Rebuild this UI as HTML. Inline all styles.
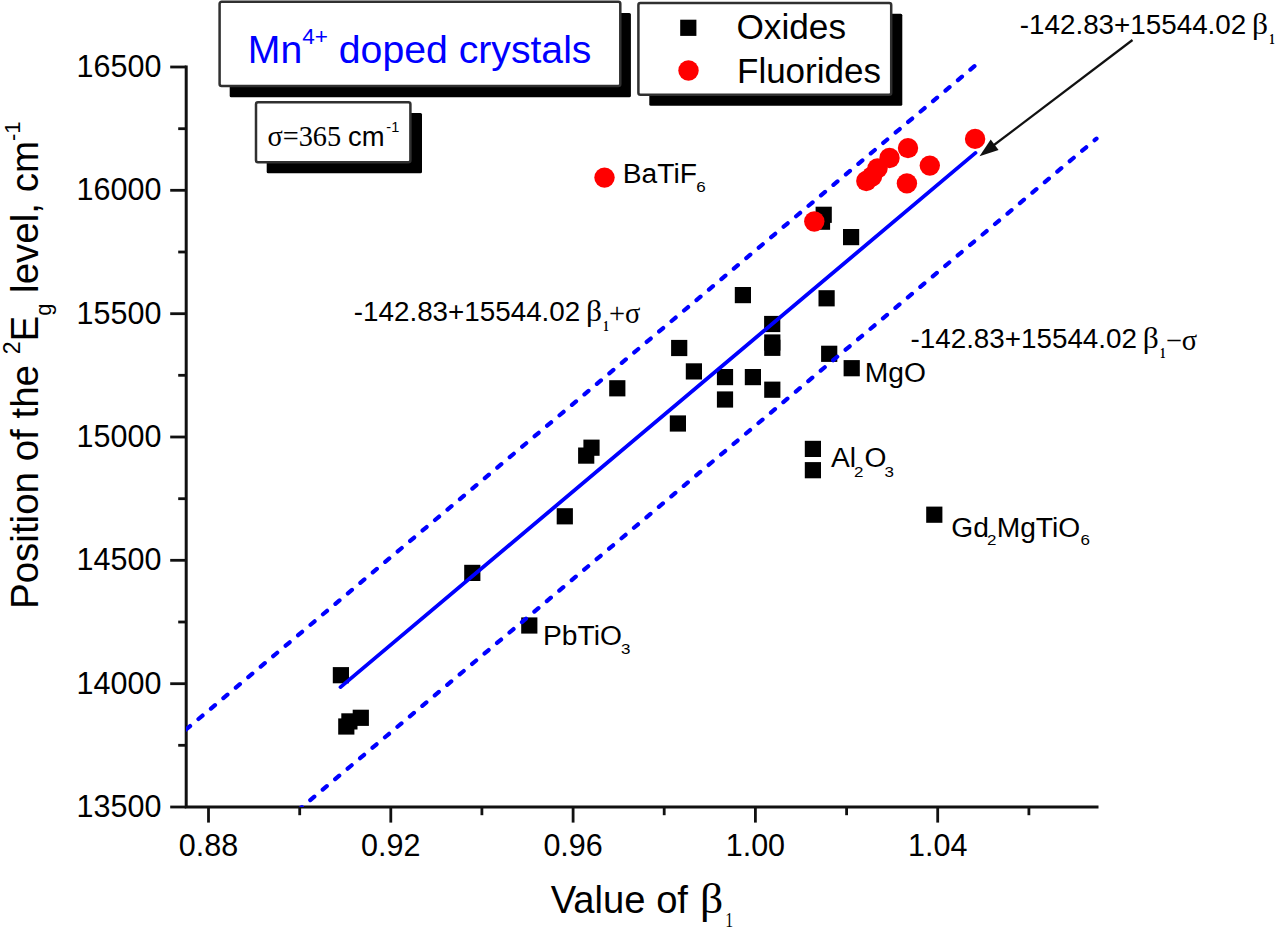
<!DOCTYPE html>
<html><head><meta charset="utf-8"><title>Mn4+ chart</title>
<style>
html,body{margin:0;padding:0;background:#fff;}
svg{display:block;}
</style></head>
<body>
<svg width="1280" height="934" viewBox="0 0 1280 934" font-family='"Liberation Sans", sans-serif'>
<rect width="1280" height="934" fill="#fff"/>
<rect x="229.7" y="12.9" width="401.2" height="84.3" rx="1.5" fill="#000"/>
<rect x="219.6" y="1.7" width="400.7" height="84.3" rx="2" fill="#fff" stroke="#303030" stroke-width="2.5"/>
<rect x="649.3" y="13.8" width="253.0" height="91.9" rx="1.5" fill="#000"/>
<rect x="638.4" y="3.1" width="252.8" height="91.7" rx="2" fill="#fff" stroke="#303030" stroke-width="2.5"/>
<rect x="266.7" y="113.0" width="155.3" height="60.2" rx="1.5" fill="#000"/>
<rect x="256.0" y="102.2" width="154.4" height="60.1" rx="2" fill="#fff" stroke="#303030" stroke-width="2.5"/>
<path d="M186.2 67 V807 H1097" fill="none" stroke="#111" stroke-width="3" stroke-linecap="square"/>
<line x1="170.2" y1="807.0" x2="186.2" y2="807.0" stroke="#111" stroke-width="2.8"/>
<line x1="178.2" y1="745.3" x2="186.2" y2="745.3" stroke="#111" stroke-width="2.8"/>
<line x1="170.2" y1="683.7" x2="186.2" y2="683.7" stroke="#111" stroke-width="2.8"/>
<line x1="178.2" y1="622.0" x2="186.2" y2="622.0" stroke="#111" stroke-width="2.8"/>
<line x1="170.2" y1="560.3" x2="186.2" y2="560.3" stroke="#111" stroke-width="2.8"/>
<line x1="178.2" y1="498.7" x2="186.2" y2="498.7" stroke="#111" stroke-width="2.8"/>
<line x1="170.2" y1="437.0" x2="186.2" y2="437.0" stroke="#111" stroke-width="2.8"/>
<line x1="178.2" y1="375.3" x2="186.2" y2="375.3" stroke="#111" stroke-width="2.8"/>
<line x1="170.2" y1="313.7" x2="186.2" y2="313.7" stroke="#111" stroke-width="2.8"/>
<line x1="178.2" y1="252.0" x2="186.2" y2="252.0" stroke="#111" stroke-width="2.8"/>
<line x1="170.2" y1="190.3" x2="186.2" y2="190.3" stroke="#111" stroke-width="2.8"/>
<line x1="178.2" y1="128.7" x2="186.2" y2="128.7" stroke="#111" stroke-width="2.8"/>
<line x1="170.2" y1="67.0" x2="186.2" y2="67.0" stroke="#111" stroke-width="2.8"/>
<line x1="208.5" y1="807" x2="208.5" y2="822.6" stroke="#111" stroke-width="2.8"/>
<line x1="299.7" y1="807" x2="299.7" y2="815.2" stroke="#111" stroke-width="2.8"/>
<line x1="390.8" y1="807" x2="390.8" y2="822.6" stroke="#111" stroke-width="2.8"/>
<line x1="481.9" y1="807" x2="481.9" y2="815.2" stroke="#111" stroke-width="2.8"/>
<line x1="573.1" y1="807" x2="573.1" y2="822.6" stroke="#111" stroke-width="2.8"/>
<line x1="664.2" y1="807" x2="664.2" y2="815.2" stroke="#111" stroke-width="2.8"/>
<line x1="755.4" y1="807" x2="755.4" y2="822.6" stroke="#111" stroke-width="2.8"/>
<line x1="846.6" y1="807" x2="846.6" y2="815.2" stroke="#111" stroke-width="2.8"/>
<line x1="937.7" y1="807" x2="937.7" y2="822.6" stroke="#111" stroke-width="2.8"/>
<line x1="1028.9" y1="807" x2="1028.9" y2="815.2" stroke="#111" stroke-width="2.8"/>
<text x="208.5" y="856.3" font-size="30.5" text-anchor="middle">0.88</text>
<text x="390.8" y="856.3" font-size="30.5" text-anchor="middle">0.92</text>
<text x="573.1" y="856.3" font-size="30.5" text-anchor="middle">0.96</text>
<text x="755.4" y="856.3" font-size="30.5" text-anchor="middle">1.00</text>
<text x="937.7" y="856.3" font-size="30.5" text-anchor="middle">1.04</text>
<text x="161.4" y="817.0" font-size="30.5" text-anchor="end">13500</text>
<text x="161.4" y="693.7" font-size="30.5" text-anchor="end">14000</text>
<text x="161.4" y="570.3" font-size="30.5" text-anchor="end">14500</text>
<text x="161.4" y="447.0" font-size="30.5" text-anchor="end">15000</text>
<text x="161.4" y="323.7" font-size="30.5" text-anchor="end">15500</text>
<text x="161.4" y="200.3" font-size="30.5" text-anchor="end">16000</text>
<text x="161.4" y="77.0" font-size="30.5" text-anchor="end">16500</text>
<rect x="332.8" y="667.1" width="16.2" height="16.2" fill="#000"/>
<rect x="338.2" y="718.4" width="16.2" height="16.2" fill="#000"/>
<rect x="341.3" y="713.3" width="16.2" height="16.2" fill="#000"/>
<rect x="352.7" y="709.7" width="16.2" height="16.2" fill="#000"/>
<rect x="464.2" y="564.8" width="16.2" height="16.2" fill="#000"/>
<rect x="521.2" y="617.4" width="16.2" height="16.2" fill="#000"/>
<rect x="556.7" y="508.2" width="16.2" height="16.2" fill="#000"/>
<rect x="583.4" y="439.6" width="16.2" height="16.2" fill="#000"/>
<rect x="578.1" y="447.5" width="16.2" height="16.2" fill="#000"/>
<rect x="609.2" y="380.2" width="16.2" height="16.2" fill="#000"/>
<rect x="669.8" y="415.4" width="16.2" height="16.2" fill="#000"/>
<rect x="671.1" y="339.9" width="16.2" height="16.2" fill="#000"/>
<rect x="685.8" y="363.3" width="16.2" height="16.2" fill="#000"/>
<rect x="716.9" y="369.0" width="16.2" height="16.2" fill="#000"/>
<rect x="716.9" y="391.4" width="16.2" height="16.2" fill="#000"/>
<rect x="734.8" y="287.0" width="16.2" height="16.2" fill="#000"/>
<rect x="744.8" y="369.0" width="16.2" height="16.2" fill="#000"/>
<rect x="764.1" y="315.9" width="16.2" height="16.2" fill="#000"/>
<rect x="764.2" y="334.4" width="16.2" height="16.2" fill="#000"/>
<rect x="764.2" y="339.7" width="16.2" height="16.2" fill="#000"/>
<rect x="764.2" y="381.6" width="16.2" height="16.2" fill="#000"/>
<rect x="815.6" y="206.7" width="16.2" height="16.2" fill="#000"/>
<rect x="813.9" y="213.6" width="16.2" height="16.2" fill="#000"/>
<rect x="843.0" y="229.0" width="16.2" height="16.2" fill="#000"/>
<rect x="818.5" y="290.2" width="16.2" height="16.2" fill="#000"/>
<rect x="821.1" y="345.7" width="16.2" height="16.2" fill="#000"/>
<rect x="843.6" y="360.1" width="16.2" height="16.2" fill="#000"/>
<rect x="804.8" y="440.8" width="16.2" height="16.2" fill="#000"/>
<rect x="804.8" y="462.1" width="16.2" height="16.2" fill="#000"/>
<rect x="926.2" y="506.6" width="16.2" height="16.2" fill="#000"/>
<circle cx="604.5" cy="177.6" r="10.2" fill="#f00"/>
<circle cx="814.3" cy="221.5" r="10.2" fill="#f00"/>
<circle cx="866.3" cy="181.0" r="10.2" fill="#f00"/>
<circle cx="872.0" cy="176.5" r="10.2" fill="#f00"/>
<circle cx="877.5" cy="168.4" r="10.2" fill="#f00"/>
<circle cx="889.5" cy="158.0" r="10.2" fill="#f00"/>
<circle cx="908.0" cy="148.1" r="10.2" fill="#f00"/>
<circle cx="906.9" cy="183.4" r="10.2" fill="#f00"/>
<circle cx="929.8" cy="165.6" r="10.2" fill="#f00"/>
<circle cx="975.1" cy="138.9" r="10.2" fill="#f00"/>
<rect x="680.2" y="19.7" width="16.2" height="16.2" fill="#000"/>
<circle cx="688.5" cy="70.5" r="10.2" fill="#f00"/>
<line x1="340.5" y1="687.1" x2="975.5" y2="152.9" stroke="#0000ff" stroke-width="3.8" stroke-linecap="round"/>
<clipPath id="pc"><rect x="186" y="0" width="1000" height="807"/></clipPath>
<line clip-path="url(#pc)" x1="175.0" y1="738.76" x2="975.0" y2="65.72" stroke="#0000ff" stroke-width="4.2" stroke-dasharray="5.3 10.97" stroke-dashoffset="-14.42" stroke-linecap="round"/>
<line clip-path="url(#pc)" x1="290.0" y1="817.14" x2="1096.5" y2="138.64" stroke="#0000ff" stroke-width="4.2" stroke-dasharray="5.3 10.97" stroke-dashoffset="-26.49" stroke-linecap="round"/>
<line x1="1132.5" y1="40" x2="990" y2="148" stroke="#111" stroke-width="2.2"/>
<polygon points="979.5,156.3 990.7,139.6 998.6,150.0" fill="#111"/>
<text x="1019.8" y="34.3" font-size="27.8">-142.83+15544.02</text>
<text transform="translate(1252.0,34.3) scale(1.05,1)" font-size="30" font-family='"Liberation Serif", serif'>β</text>
<text transform="translate(1269.3,43.9) scale(0.7,1)" font-size="15.5" font-weight="bold" font-family='"Liberation Serif", serif'>1</text>
<text x="353.8" y="320.9" font-size="27.8">-142.83+15544.02</text>
<text transform="translate(586.0,320.9) scale(1.05,1)" font-size="30" font-family='"Liberation Serif", serif'>β</text>
<text transform="translate(603.3,330.5) scale(0.7,1)" font-size="15.5" font-weight="bold" font-family='"Liberation Serif", serif'>1</text>
<text x="609.0" y="322.5" font-size="28.5" font-family='"Liberation Serif", serif'>+σ</text>
<text x="910.5" y="348.4" font-size="27.8">-142.83+15544.02</text>
<text transform="translate(1142.7,348.4) scale(1.05,1)" font-size="30" font-family='"Liberation Serif", serif'>β</text>
<text transform="translate(1160.0,358.0) scale(0.7,1)" font-size="15.5" font-weight="bold" font-family='"Liberation Serif", serif'>1</text>
<text x="1165.7" y="350.0" font-size="28.5" font-family='"Liberation Serif", serif'>−σ</text>
<text x="622.8" y="182.5" font-size="28.2">BaTiF</text>
<text transform="translate(696.2,191.5) scale(1.0,0.86)" font-size="17">6</text>
<text x="864.8" y="382.1" font-size="28.2">MgO</text>
<text x="830.9" y="467.4" font-size="28.2">Al</text>
<text transform="translate(854.0,476.8) scale(1.0,0.86)" font-size="17">2</text>
<text x="864.4" y="467.4" font-size="28.2">O</text>
<text transform="translate(884.6,476.8) scale(1.0,0.86)" font-size="17">3</text>
<text x="951.3" y="536.5" font-size="28.2">Gd</text>
<text transform="translate(987.0,545.4) scale(1.0,0.86)" font-size="17">2</text>
<text x="996.7" y="536.5" font-size="28.2">MgTiO</text>
<text transform="translate(1080.5,545.4) scale(1.0,0.86)" font-size="17">6</text>
<text x="543.0" y="644.6" font-size="28.2">PbTiO</text>
<text transform="translate(621.0,654.0) scale(1.0,0.86)" font-size="17">3</text>
<text x="736.5" y="39.2" font-size="35.2">Oxides</text>
<text x="737.0" y="83.0" font-size="35.0">Fluorides</text>
<text x="247.8" y="63.2" font-size="39.2" fill="#0000ff">Mn<tspan font-size="22.5" dy="-19">4+</tspan><tspan dy="19"> doped crystals</tspan></text>
<text transform="translate(267.4,146.1) scale(0.96,1)" font-size="29.5" font-family='"Liberation Serif", serif'>σ=365</text>
<text x="348.0" y="146.1" font-size="27.4">cm</text>
<text x="386.3" y="131.8" font-size="14.5">-1</text>
<text x="550.7" y="913" font-size="38.2">Value of</text>
<text transform="translate(700.0,913) scale(1.1,1)" font-size="41.5" font-family='"Liberation Serif", serif'>β</text>
<text transform="translate(725.2,926.8) scale(0.75,1)" font-size="21" font-family='"Liberation Serif", serif'>1</text>
<text transform="translate(38.2,609) rotate(-90)" font-size="38.5">Position of the <tspan font-size="23" dy="-18">2</tspan><tspan dy="18">E</tspan><tspan font-size="22" dy="13">g</tspan><tspan dy="-13"> level, cm</tspan><tspan font-size="22" dy="-18">-1</tspan></text>
</svg>
</body></html>
